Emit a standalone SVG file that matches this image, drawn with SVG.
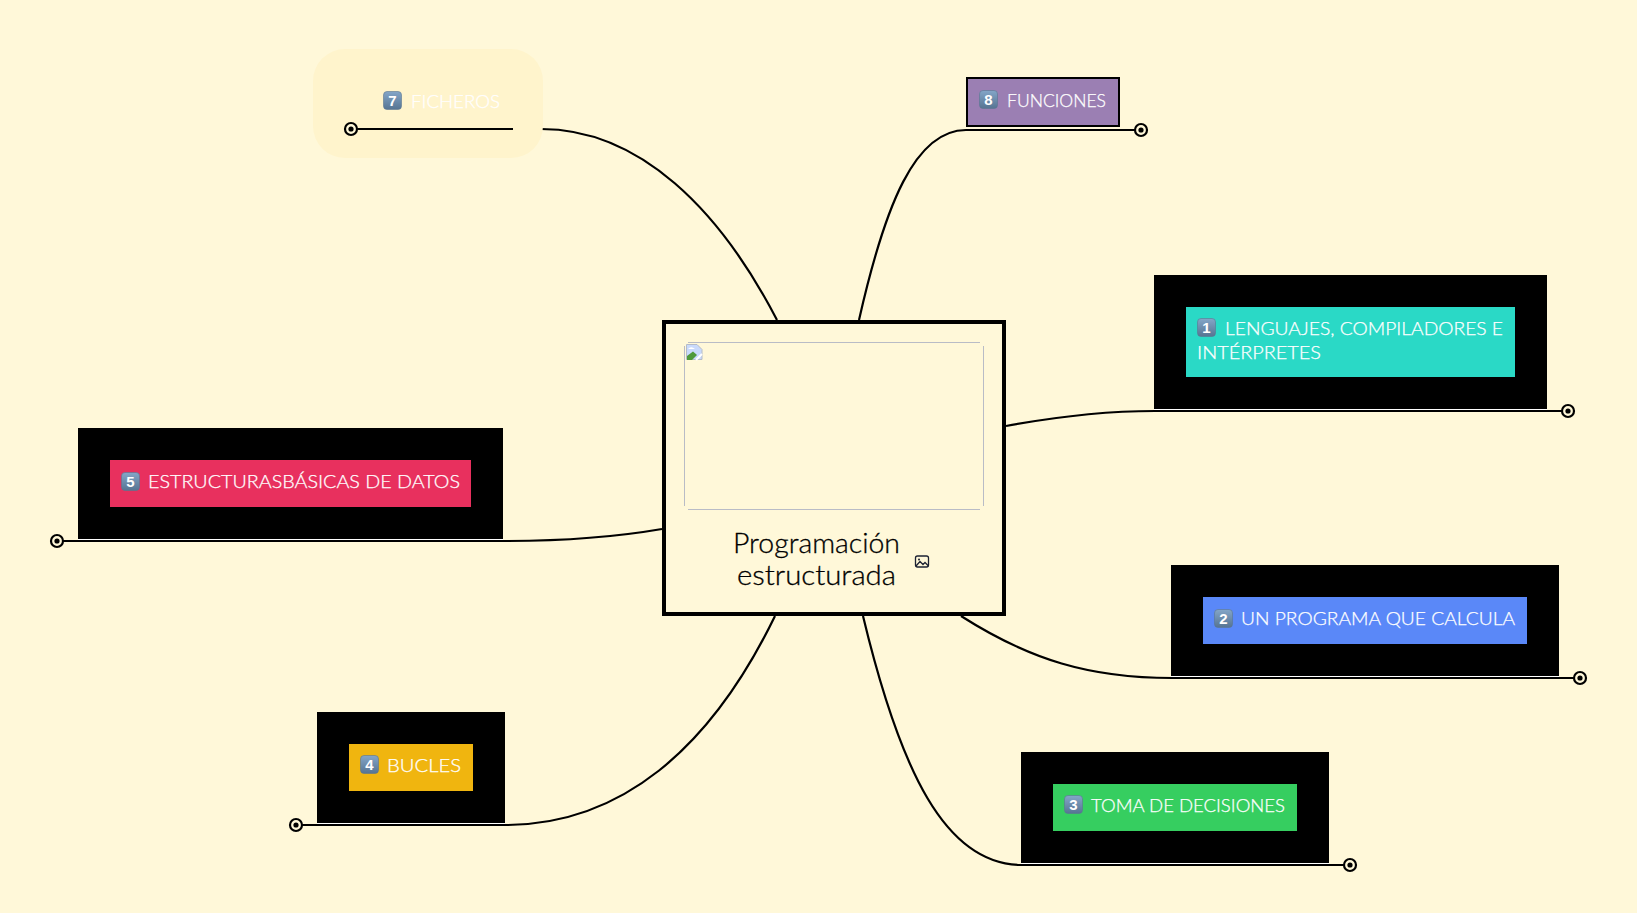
<svg xmlns="http://www.w3.org/2000/svg" width="1637" height="913" viewBox="0 0 1637 913">
<style>
.c{fill:none;stroke:#000;stroke-width:2.200}
.w{fill:none;stroke:#fff;stroke-width:1}
.t{font-family:"Lato","Liberation Sans",sans-serif;font-weight:300;font-size:18px;fill:#fff;stroke:#fff;stroke-width:.25}
.k{fill:url(#kg);stroke:#5b7590;stroke-width:.6}
.n{font-family:"Liberation Sans",Arial,sans-serif;font-weight:700;font-size:15px;fill:#fff;text-anchor:middle}
.b{fill:#000}
.r{font-family:"Lato","Liberation Sans",sans-serif;font-weight:300;font-size:27px;fill:#000;stroke:#000;stroke-width:.3}
</style>
<defs>
<linearGradient id="kg" x1="0" y1="0" x2="0" y2="1"><stop offset="0" stop-color="#84a6c8"/><stop offset="1" stop-color="#567492"/></linearGradient>
<symbol id="dot" overflow="visible"><circle r="6" fill="#fff8d9" stroke="#000" stroke-width="2.200"/><circle r="2.600" fill="#000"/></symbol>
</defs>
<rect width="1637" height="913" fill="#fff8d9"/>
<g id="connectors">
<path class="c" d="M541 129C640 129 720 210 777 320"/>
<path class="c" d="M859 320C885 205 915 130 966 130"/>
<path class="c" d="M1006 426C1060 416 1110 411 1155 411"/>
<path class="c" d="M961 616C1030 660 1090 678 1172 678"/>
<path class="c" d="M863 616C900 770 945 865 1022 865"/>
<path class="c" d="M775 616C710 750 620 825 505 825"/>
<path class="c" d="M662 529C610 538 560 541 503 541"/>
</g>
<g id="node-7">
<rect x="313" y="49" width="230" height="109" rx="32" fill="#fff4cc"/>
<rect class="k" x="383.500" y="91.500" width="18" height="18" rx="3.500"/><text class="n" x="392.500" y="106">7</text>
<text class="t" x="411" y="108" textLength="89" lengthAdjust="spacingAndGlyphs">FICHEROS</text>
<path class="c" d="M351 129H513"/><use href="#dot" x="351" y="129"/>
</g>
<g id="node-8">
<rect x="967" y="78" width="152" height="48" fill="#9b7fb3" stroke="#000" stroke-width="2"/>
<rect class="k" x="979.500" y="90.500" width="18" height="18" rx="3.500"/><text class="n" x="988.500" y="105">8</text>
<text class="t" x="1007" y="107" textLength="99" lengthAdjust="spacingAndGlyphs">FUNCIONES</text>
<path class="c" d="M966 130H1141"/><use href="#dot" x="1141" y="130"/>
</g>
<g id="node-1">
<rect class="b" x="1154" y="275" width="393" height="134"/>
<rect x="1186" y="307" width="329" height="70" fill="#2ad9c6"/>
<rect class="k" x="1197.500" y="318.500" width="18" height="18" rx="3.500"/><text class="n" x="1206.500" y="333">1</text>
<text class="t" x="1225" y="335" textLength="278" lengthAdjust="spacingAndGlyphs">LENGUAJES, COMPILADORES E</text>
<text class="t" x="1197" y="359" textLength="124" lengthAdjust="spacingAndGlyphs">INTÉRPRETES</text>
<path class="w" d="M1154 409.500H1547"/><path class="c" d="M1155 411H1568"/><use href="#dot" x="1568" y="411"/>
</g>
<g id="node-2">
<rect class="b" x="1171" y="565" width="388" height="111"/>
<rect x="1203" y="597" width="324" height="47" fill="#5a88f8"/>
<rect class="k" x="1214.500" y="609.500" width="18" height="18" rx="3.500"/><text class="n" x="1223.500" y="624">2</text>
<text class="t" x="1241" y="625" textLength="274" lengthAdjust="spacingAndGlyphs">UN PROGRAMA QUE CALCULA</text>
<path class="w" d="M1171 676.500H1559"/><path class="c" d="M1172 678H1580"/><use href="#dot" x="1580" y="678"/>
</g>
<g id="node-3">
<rect class="b" x="1021" y="752" width="308" height="111"/>
<rect x="1053" y="784" width="244" height="47" fill="#36ce60"/>
<rect class="k" x="1064.500" y="795.500" width="18" height="18" rx="3.500"/><text class="n" x="1073.500" y="810">3</text>
<text class="t" x="1091" y="812" textLength="194" lengthAdjust="spacingAndGlyphs">TOMA DE DECISIONES</text>
<path class="w" d="M1021 863.500H1329"/><path class="c" d="M1022 865H1350"/><use href="#dot" x="1350" y="865"/>
</g>
<g id="node-4">
<rect class="b" x="317" y="712" width="188" height="111"/>
<rect x="349" y="744" width="124" height="47" fill="#f0b50f"/>
<rect class="k" x="360.500" y="755.500" width="18" height="18" rx="3.500"/><text class="n" x="369.500" y="770">4</text>
<text class="t" x="387" y="772" textLength="74" lengthAdjust="spacingAndGlyphs">BUCLES</text>
<path class="w" d="M317 823.500H505"/><path class="c" d="M296 825H505"/><use href="#dot" x="296" y="825"/>
</g>
<g id="node-5">
<rect class="b" x="78" y="428" width="425" height="111"/>
<rect x="110" y="460" width="361" height="47" fill="#e8305e"/>
<rect class="k" x="121.500" y="472.500" width="18" height="18" rx="3.500"/><text class="n" x="130.500" y="487">5</text>
<text class="t" x="148" y="488" textLength="312" lengthAdjust="spacingAndGlyphs">ESTRUCTURASBÁSICAS DE DATOS</text>
<path class="w" d="M78 539.500H503"/><path class="c" d="M57 541H503"/><use href="#dot" x="57" y="541"/>
</g>
<g id="center">
<rect x="664" y="322" width="340" height="292" fill="#fff8d9" stroke="#000" stroke-width="4"/>
<path d="M688 342.500H980M684.500 346V506M983.500 346V506M688 509.500H980" fill="none" stroke="#b9bcc6" stroke-width="1"/>
<g id="broken-image">
<path d="M686.500 344.500H697L702 349.500V359.500H686.500Z" fill="#c9dafc" stroke="#b5bcc8" stroke-width="1"/>
<path d="M687 360V356L693 351.500L697 355L692 360Z" fill="#4f9a3b"/>
<path d="M688 349Q691 345.500 695 349Z" fill="#fff"/>
<path d="M696 360L702 354" stroke="#fff" stroke-width="2"/>
</g>
<text class="r" x="733" y="553" textLength="167" lengthAdjust="spacingAndGlyphs">Programación</text>
<text class="r" x="737" y="585" textLength="159" lengthAdjust="spacingAndGlyphs">estructurada</text>
<g id="image-icon" fill="none" stroke="#1d2233" stroke-width="1.300">
<rect x="915.500" y="556" width="13" height="11" rx="2"/>
<path d="M916 566L920 561.500L923 564.500L925 562.500L928.500 566"/>
<circle cx="919" cy="559.500" r="1" fill="#1d2233" stroke="none"/>
</g>
</g>
</svg>
